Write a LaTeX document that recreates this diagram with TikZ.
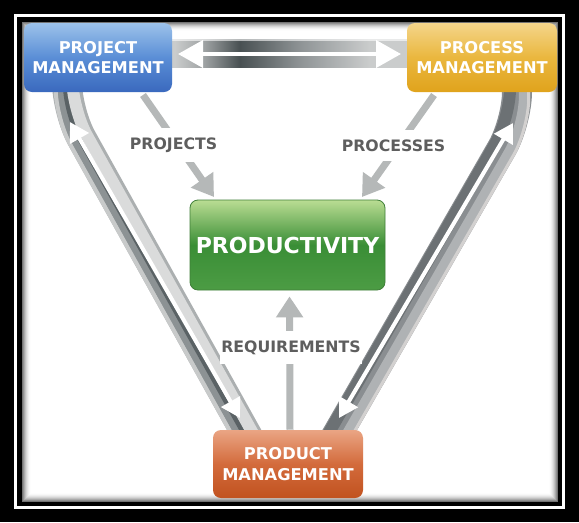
\documentclass[tikz,border=0pt]{standalone}
\usepackage{fontspec}
\setmainfont{DejaVu Sans}
\usetikzlibrary{arrows.meta,calc}
\definecolor{pmT}{HTML}{9CC2EA}
\definecolor{pmM}{HTML}{5A8ED6}
\definecolor{pmB}{HTML}{3A69BE}
\definecolor{prT}{HTML}{F4D58A}
\definecolor{prM}{HTML}{EAB73E}
\definecolor{prB}{HTML}{E0A31C}
\definecolor{pdT}{HTML}{EAA584}
\definecolor{pdM}{HTML}{D36B3C}
\definecolor{pdB}{HTML}{C1521F}
\definecolor{gnT}{HTML}{BADD93}
\definecolor{gnM}{HTML}{3A8E36}
\definecolor{gnB}{HTML}{4C9C44}
\definecolor{gnE}{HTML}{3F7F38}
\definecolor{arrgray}{HTML}{B5B8B8}
\definecolor{lblgray}{HTML}{5E5E5E}
\definecolor{tbL}{HTML}{CACCCC}
\definecolor{tbQ}{HTML}{9DA1A2}
\definecolor{tbD}{HTML}{485052}
\definecolor{tbM}{HTML}{8E9395}
\definecolor{lbBase}{HTML}{ABAFB0}
\definecolor{lbDark}{HTML}{8C9294}
\definecolor{lbDarker}{HTML}{5A6265}
\definecolor{lbLight}{HTML}{DADBDB}
\definecolor{lbEdge}{HTML}{C8CACA}
\definecolor{rbBase}{HTML}{8A8E91}
\definecolor{rbDark}{HTML}{6C7174}
\definecolor{rbLight}{HTML}{AFB2B4}
\definecolor{rbEdge}{HTML}{D3D1D0}
\pgfdeclarehorizontalshading{topband}{100bp}{color(0bp)=(tbL); color(27bp)=(tbL); color(33bp)=(tbQ); color(40bp)=(tbD); color(52bp)=(tbM); color(66bp)=(tbL); color(100bp)=(tbL)}
\pgfdeclarelayer{frame}
\pgfdeclarelayer{bg}
\pgfsetlayers{frame,bg,main}
\begin{document}
\begin{tikzpicture}[x=0.75pt,y=-0.75pt,
  box/.style={rounded corners=6pt, text=white, align=center, inner sep=0pt,
    font=\bfseries\fontsize{12.2}{15.5}\selectfont},
  lbl/.style={text=lblgray, fill=white, inner xsep=1pt, inner ysep=7pt,
    font=\bfseries\fontsize{11.8}{14}\selectfont},
  garrow/.style={draw=arrgray, line width=5.25pt, -{Triangle[width=19.5pt,length=15.75pt]}},
  shaft/.style={draw=white, line width=3pt, {Triangle[width=15.75pt,length=14.25pt]}-{Triangle[width=15.75pt,length=14.25pt]}},
  tshaft/.style={draw=white, line width=3pt, {Triangle[width=20.25pt,length=18.75pt]}-{Triangle[width=20.25pt,length=18.75pt]}}]
\useasboundingbox (0,0) rectangle (579,522);
% frame
\begin{pgfonlayer}{frame}
\fill[black] (0,0) rectangle (579,522);
\draw[white, line width=1.9pt] (15.3,15.3) rectangle (563.5,507.5);
\fill[white] (22,22) rectangle (557.5,502);
\foreach \i [evaluate=\i as \op using {0.55*(1-\i/9)^2}] in {0,...,8}
  \draw[black, opacity=\op, line width=0.75pt] (22.5+\i,22.5+\i) rectangle (557-\i,501.5-\i);
\end{pgfonlayer}
% nodes
\node[box, minimum width=111pt, minimum height=51.75pt, top color=pmT, bottom color=pmB, middle color=pmM] (PM) at (98,57.5) {PROJECT\\MANAGEMENT};
\node[box, minimum width=112.5pt, minimum height=51.75pt, top color=prT, bottom color=prB, middle color=prM] (PrM) at (482,57.5) {PROCESS\\MANAGEMENT};
\node[box, minimum width=112.5pt, minimum height=51pt, top color=pdT, bottom color=pdB, middle color=pdM] (PdM) at (288,464) {PRODUCT\\MANAGEMENT};
\node[box, draw=gnE, line width=0.6pt, minimum width=146.25pt, minimum height=67.5pt, top color=gnT, bottom color=gnB, middle color=gnM, font=\bfseries\fontsize{16.5}{20}\selectfont] (PROD) at (287.5,245) {PRODUCTIVITY};
% coordinates
\coordinate (La) at (67,70);
\coordinate (Lb) at (67,112);
\coordinate (Lc) at (252,444);
\coordinate (Ls1) at (70,122);
\coordinate (Ls2) at (240,418);
\coordinate (Ra) at (517,70);
\coordinate (Rb) at (517,122);
\coordinate (Rc) at (334,440);
\coordinate (Rs1) at (513,123);
\coordinate (Rs2) at (339,418);
\coordinate (Ts1) at (178,54);
\coordinate (Ts2) at (401,54);
\coordinate (pj1) at (143,95);
\coordinate (pj2) at (214,197);
\coordinate (pc1) at (434,95);
\coordinate (pc2) at (362,197);
\begin{pgfonlayer}{bg}
% top band
\shade[shading=topband] (165,39) rectangle (414,67);
\draw[white, opacity=0.6, line width=1.2pt] (165,40) -- (414,40);
\draw[tshaft] (Ts1) -- (Ts2);
% left band
\foreach \dx/\dy/\w/\c in {0/0/22.5pt/lbBase, -3.49/1.95/10.5pt/lbDark, -1.75/0.97/3.75pt/lbDarker, 5.24/-2.92/9pt/lbLight, -11.35/6.33/3pt/lbEdge}
  \draw[draw=\c, line width=\w, rounded corners=22.5pt] ($(La)+(\dx,\dy)$) -- ($(Lb)+(\dx,\dy)$) -- ($(Lc)+(\dx,\dy)$);
\draw[shaft] (Ls1) -- (Ls2);
% right band
\foreach \dx/\dy/\w/\c in {0/0/22.5pt/rbBase, -6.94/-3.98/9pt/rbDark, 6.94/3.98/7.5pt/rbLight, 11.7/6.72/2.25pt/rbEdge}
  \draw[draw=\c, line width=\w, rounded corners=22.5pt] ($(Ra)+(\dx,\dy)$) -- ($(Rb)+(\dx,\dy)$) -- ($(Rc)+(\dx,\dy)$);
\draw[shaft] (Rs1) -- (Rs2);
% gray arrows
\draw[garrow] (pj1) -- (pj2);
\draw[garrow] (pc1) -- (pc2);
\draw[garrow] ($(PdM.north)+(2,0)$) -- ($(PROD.south)+(2,6)$);
\end{pgfonlayer}
% labels
\node[lbl] (lproj) at (173.5,145) {PROJECTS};
\node[lbl] (lproc) at (393.5,145.5) {PROCESSES};
\node[lbl] (lreq) at (291,347.5) {REQUIREMENTS};
\end{tikzpicture}
\end{document}
